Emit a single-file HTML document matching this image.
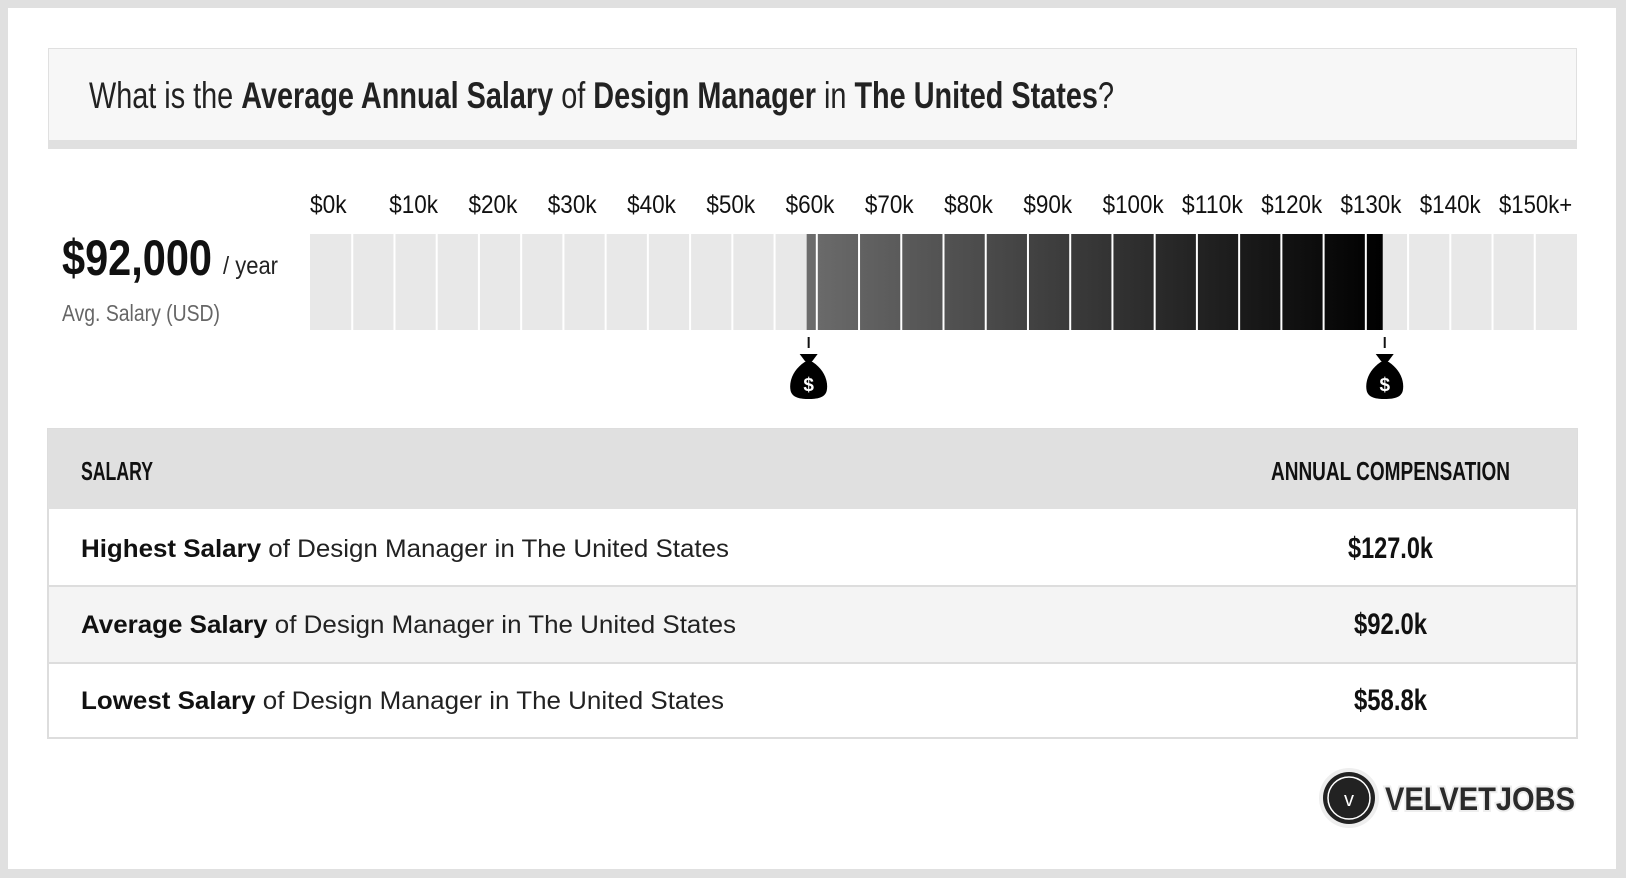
<!DOCTYPE html>
<html><head><meta charset="utf-8"><title>Design Manager Salary</title>
<style>html,body{margin:0;padding:0;background:#fff}svg{display:block}</style></head>
<body>
<svg id="chart" width="1626" height="878" viewBox="0 0 1626 878" xmlns="http://www.w3.org/2000/svg" font-family="'Liberation Sans', sans-serif">
  <rect x="0" y="0" width="1626" height="878" fill="#e0e0e0"/>
  <rect x="8" y="8" width="1608" height="861" fill="#ffffff"/>
  <rect x="48" y="48" width="1529" height="101" fill="#e0e0e0"/>
  <rect x="49" y="49" width="1527" height="91" fill="#f7f7f7"/>
  <text x="89" y="108" font-size="37" fill="#222" textLength="1025" lengthAdjust="spacingAndGlyphs">What is the <tspan font-weight="bold">Average Annual Salary</tspan> of <tspan font-weight="bold">Design Manager</tspan> in <tspan font-weight="bold">The United States</tspan>?</text>

  <text x="62" y="275" font-size="50" font-weight="bold" fill="#111" textLength="150" lengthAdjust="spacingAndGlyphs">$92,000</text>
  <text x="223" y="274" font-size="25" fill="#222" textLength="55" lengthAdjust="spacingAndGlyphs">/ year</text>
  <text x="62" y="321" font-size="23" fill="#666" textLength="158" lengthAdjust="spacingAndGlyphs">Avg. Salary (USD)</text>

  <g id="axis"></g>
  <g id="bars"></g>
  <g id="markers"></g>

  <g>
    <rect x="48" y="429" width="1529" height="309" fill="#fff" stroke="#dddddd" stroke-width="2"/>
    <rect x="48" y="429" width="1529" height="80" fill="#e0e0e0"/>
    <text x="81" y="480" font-size="26" font-weight="bold" fill="#111" textLength="72" lengthAdjust="spacingAndGlyphs">SALARY</text>
    <text x="1271" y="480" font-size="26" font-weight="bold" fill="#111" textLength="239" lengthAdjust="spacingAndGlyphs">ANNUAL COMPENSATION</text>
    <rect x="49" y="587" width="1527" height="75" fill="#f4f4f4"/>
    <line x1="48" y1="586" x2="1577" y2="586" stroke="#dddddd" stroke-width="2"/>
    <line x1="48" y1="663" x2="1577" y2="663" stroke="#dddddd" stroke-width="2"/>
    <text x="81" y="557" font-size="25" fill="#222" textLength="648" lengthAdjust="spacingAndGlyphs"><tspan font-weight="bold" fill="#111">Highest Salary</tspan> of Design Manager in The United States</text>
    <text x="81" y="633" font-size="25" fill="#222" textLength="655" lengthAdjust="spacingAndGlyphs"><tspan font-weight="bold" fill="#111">Average Salary</tspan> of Design Manager in The United States</text>
    <text x="81" y="709" font-size="25" fill="#222" textLength="643" lengthAdjust="spacingAndGlyphs"><tspan font-weight="bold" fill="#111">Lowest Salary</tspan> of Design Manager in The United States</text>
    <text x="1348" y="558" font-size="30" font-weight="bold" fill="#111" textLength="85" lengthAdjust="spacingAndGlyphs">$127.0k</text>
    <text x="1354" y="634" font-size="30" font-weight="bold" fill="#111" textLength="73" lengthAdjust="spacingAndGlyphs">$92.0k</text>
    <text x="1354" y="710" font-size="30" font-weight="bold" fill="#111" textLength="73" lengthAdjust="spacingAndGlyphs">$58.8k</text>
  </g>

  <g>
    <circle cx="1349" cy="798" r="30" fill="#eeeeee"/>
    <circle cx="1349" cy="798" r="26" fill="#222"/>
    <circle cx="1349" cy="798" r="21" fill="none" stroke="#fff" stroke-width="1.5"/>
    <text x="1349" y="806" font-size="20" fill="#fff" text-anchor="middle">v</text>
    <text x="1385" y="810" font-size="32" font-weight="bold" fill="#2a2a2a" stroke="#eeeeee" stroke-width="4" paint-order="stroke" textLength="190" lengthAdjust="spacingAndGlyphs">VELVETJOBS</text>
  </g>
</svg>
<script>
const tickValues = [0,10000,20000,30000,40000,50000,60000,70000,80000,90000,100000,110000,120000,130000,140000,150000];
const tickLabels = ["$0k","$10k","$20k","$30k","$40k","$50k","$60k","$70k","$80k","$90k","$100k","$110k","$120k","$130k","$140k","$150k+"];
const segmentStep = [5000];
const lowSalary = [58800];
const highSalary = [127000];
const avgSalary = [92000];

const NS = "http://www.w3.org/2000/svg";
const X0 = 310, X1 = 1577, VMAX = 150000, BY = 234, BH = 96;
const LABEL_SPAN = 1189;
function xs(v){ return X0 + (v / VMAX) * (X1 - X0); }
function xl(v){ return X0 + (v / VMAX) * LABEL_SPAN; }
function mk(tag, attrs, parent){ const e = document.createElementNS(NS, tag); for (const k in attrs) e.setAttribute(k, attrs[k]); parent.appendChild(e); return e; }

const axis = document.getElementById('axis');
tickValues.forEach((v, i) => {
  const t = mk('text', {x: xl(v), y: 213, 'font-size': 25, fill: '#111', textLength: (tickLabels[i].length * 12.2).toFixed(1), lengthAdjust: 'spacingAndGlyphs'}, axis);
  
  
  t.textContent = tickLabels[i];
});

const bars = document.getElementById('bars');
const defs = mk('defs', {}, bars);
const grad = mk('linearGradient', {id: 'darkGrad', gradientUnits: 'userSpaceOnUse', x1: xs(lowSalary[0]), x2: xs(highSalary[0]), y1: 0, y2: 0}, defs);
mk('stop', {offset: '0', 'stop-color': '#6c6c6c'}, grad);
mk('stop', {offset: '1', 'stop-color': '#000000'}, grad);
const step = segmentStep[0];
for (let v = 0; v < VMAX; v += step) {
  const r = mk('rect', {x: xs(v), y: BY, width: xs(v + step) - xs(v), height: BH, fill: '#e8e8e8'}, bars);
  
  
}
const dark = mk('rect', {x: xs(lowSalary[0]), y: BY, width: xs(highSalary[0]) - xs(lowSalary[0]), height: BH, fill: 'url(#darkGrad)'}, bars);


for (let v = step; v < VMAX; v += step) {
  const g = mk('rect', {x: xs(v) - 1, y: BY, width: 2, height: BH, fill: '#ffffff'}, bars);
  
  
}

const markers = document.getElementById('markers');
[lowSalary[0], highSalary[0]].forEach((v, i) => {
  const cx = xs(v) + 2;
  const g = mk('g', {}, markers);
  
  
  mk('rect', {x: cx - 1, y: 337, width: 2, height: 11, fill: '#111'}, g);
  mk('path', {d: `M${cx-9} 354 L${cx+9} 354 L${cx+3} 362 L${cx-3} 362 Z`, fill: '#000'}, g);
  mk('path', {d: `M${cx-4} 362 L${cx+4} 362 C${cx+16} 370 ${cx+20} 382 ${cx+18} 391 C${cx+16} 398 ${cx+8} 399 ${cx} 399 C${cx-8} 399 ${cx-16} 398 ${cx-18} 391 C${cx-20} 382 ${cx-16} 370 ${cx-4} 362 Z`, fill: '#000'}, g);
  const d = mk('text', {x: cx, y: 391, 'font-size': 19, 'font-weight': 'bold', fill: '#fff', 'text-anchor': 'middle'}, g);
  d.textContent = '$';
});
</script>
</body></html>
